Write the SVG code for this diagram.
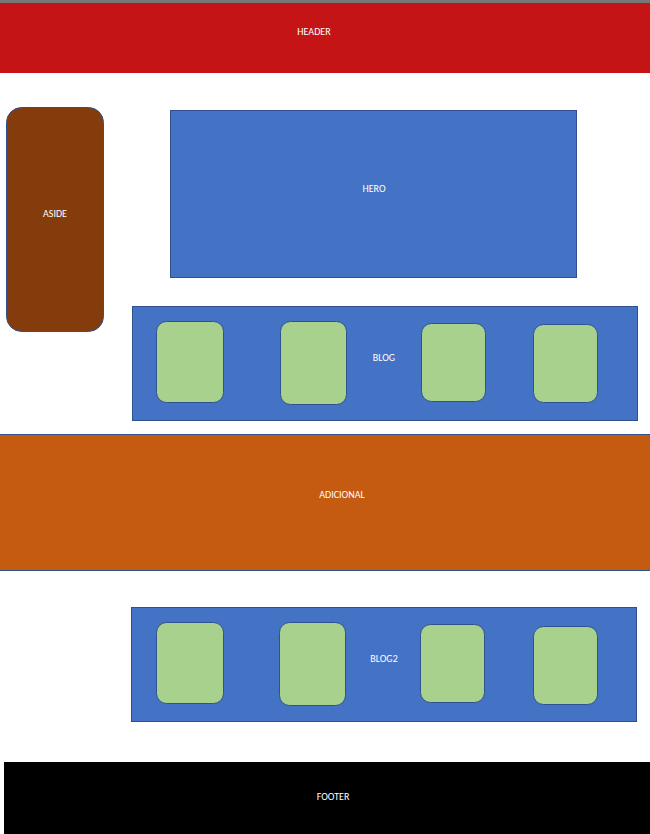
<svg xmlns="http://www.w3.org/2000/svg" width="650" height="834" viewBox="0 0 650 834">
<style>
.b{stroke:#2f528f;stroke-width:1}
.c{fill:#a9d18e;stroke:#2f528f;stroke-width:1}
text{font-family:"Calibri","Carlito","Liberation Sans",sans-serif;font-size:10px;fill:#fff;text-anchor:middle;dominant-baseline:middle}
</style>
<rect width="650" height="834" fill="#fff"/>
<rect x="0" y="0" width="650" height="3" fill="#777"/>
<g id="header"><rect x="0" y="3" width="650" height="70" fill="#c51416"/><text x="314" y="33">HEADER</text></g>
<g id="aside"><rect class="b" x="6.500" y="107.500" width="97" height="224" rx="15" fill="#843c0c"/><text x="55" y="215">ASIDE</text></g>
<g id="hero"><rect class="b" x="170.500" y="110.500" width="406" height="167" fill="#4472c4"/><text x="374" y="190">HERO</text></g>
<g id="blog"><rect class="b" x="132.500" y="306.500" width="505" height="114" fill="#4472c4"/><text x="384" y="359">BLOG</text>
<rect class="c" x="156.500" y="321.500" width="67" height="81" rx="10"/>
<rect class="c" x="280.500" y="321.500" width="66" height="83" rx="10"/>
<rect class="c" x="421.500" y="323.500" width="64" height="78" rx="10"/>
<rect class="c" x="533.500" y="324.500" width="64" height="78" rx="10"/></g>
<g id="adicional"><rect class="b" x="-1" y="434.500" width="652" height="136" fill="#c55a11"/><text x="342" y="496">ADICIONAL</text></g>
<g id="blog2"><rect class="b" x="131.500" y="607.500" width="505" height="114" fill="#4472c4"/><text x="384" y="660">BLOG2</text>
<rect class="c" x="156.500" y="622.500" width="67" height="81" rx="10"/>
<rect class="c" x="279.500" y="622.500" width="66" height="83" rx="10"/>
<rect class="c" x="420.500" y="624.500" width="64" height="78" rx="10"/>
<rect class="c" x="533.500" y="626.500" width="64" height="78" rx="10"/></g>
<g id="footer"><rect x="4" y="762" width="646" height="72" fill="#000"/><text x="333" y="798">FOOTER</text></g>
<g id="connectors"/>
</svg>
